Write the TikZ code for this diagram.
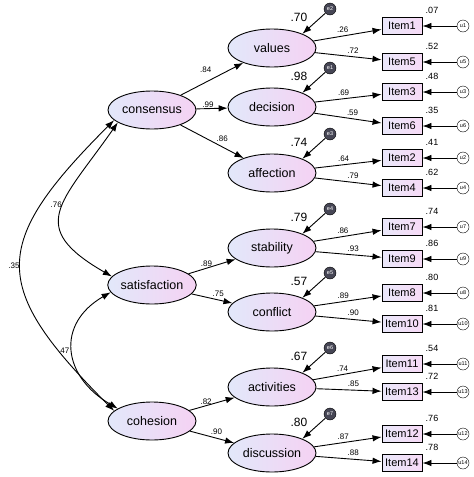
\documentclass[tikz,border=0pt]{standalone}
\usepackage{fontspec}
\setmainfont{Liberation Sans}
\usetikzlibrary{arrows.meta, positioning, calc, shapes.geometric}

\definecolor{latleft}{RGB}{226,232,250}
\definecolor{latright}{RGB}{245,210,243}
\definecolor{boxleft}{RGB}{234,232,250}
\definecolor{boxright}{RGB}{246,218,246}
\definecolor{errfill}{RGB}{70,70,85}

\begin{document}
\begin{tikzpicture}[
    x=1pt, y=-1pt,
    font=\fontsize{12}{14}\selectfont,
    latent/.style={ellipse, draw=black, line width=0.9pt, left color=latleft, right color=latright,
        minimum width=88pt, minimum height=38pt, inner sep=0pt, font=\fontsize{12.5}{14}\selectfont},
    itembox/.style={rectangle, draw=black, line width=0.9pt, left color=boxleft, right color=boxright,
        minimum width=40pt, minimum height=17pt, inner sep=0pt, font=\fontsize{11}{13}\selectfont},
    errc/.style={circle, draw=black, fill=errfill, text=white, minimum size=12pt, inner sep=0pt,
        font=\fontsize{5.5}{6}\selectfont},
    uniq/.style={circle, draw=black, fill=white, minimum size=12pt, inner sep=0pt,
        font=\fontsize{5.5}{6}\selectfont},
    arr/.style={-{Latex[length=9pt, width=6.5pt]}, line width=0.9pt},
    biarr/.style={{Latex[length=9pt, width=6.5pt]}-{Latex[length=9pt, width=6.5pt]}, line width=0.9pt},
    coef/.style={font=\fontsize{8}{9}\selectfont, inner sep=1pt},
    rsq/.style={font=\fontsize{12}{14}\selectfont, inner sep=0pt},
    rsqitem/.style={font=\fontsize{9}{11}\selectfont, inner sep=0pt},
]
\useasboundingbox (0,0) rectangle (474,477);

% ===== Column positions =====
\def\xL{152}   % second-order factors
\def\xM{272}   % first-order factors
\def\xI{402}   % indicators
\def\xU{463}   % unique errors

% ===== Second-order factors =====
\foreach \name/\y in {consensus/110, satisfaction/285, cohesion/421} {
    \node[latent] (\name) at (\xL,\y) {\name};
}

% ===== First-order factors with residuals =====
\foreach \name/\y/\rv/\err in {values/48/.70/e2, decision/107/.98/e1, affection/173/.74/e3,
        stability/248/.79/e4, conflict/312/.57/e5, activities/387/.67/e6, discussion/453/.80/e7} {
    \node[latent] (\name) at (\xM,\y) {\name};
    \node[rsq] (r\name) at ($(\name)+(27,-31)$) {\rv};
    \node[errc] (\err) at ($(\name)+(58,-39)$) {\err};
    \draw[arr] (\err) -- (\name.25);
}

% ===== Indicators with unique errors =====
\foreach \i/\y/\rv in {1/26/.07, 5/62/.52, 3/92/.48, 6/126/.35, 2/158/.41, 4/188/.62, 7/227/.74,
        9/259/.86, 8/293/.80, 10/324/.81, 11/364/.54, 13/392/.72, 12/434/.76, 14/463/.78} {
    \node[itembox] (item\i) at (\xI,\y) {Item\i};
    \node[rsqitem] (ritem\i) at ($(item\i)+(30,-16)$) {\rv};
    \node[uniq] (u\i) at (\xU,\y) {u\i};
    \draw[arr] (u\i) -- (item\i);
}

% ===== Loadings: first-order factors -> indicators =====
\foreach \lat/\ia/\ca/\ib/\cb in {values/1/.26/5/.72, decision/3/.69/6/.59, affection/2/.64/4/.79,
        stability/7/.86/9/.93, conflict/8/.89/10/.90, activities/11/.74/13/.85, discussion/12/.87/14/.88} {
    \draw[arr] (\lat) -- node[coef, pos=0.43, above, yshift=2pt] {\ca} (item\ia);
    \draw[arr] (\lat) -- node[coef, pos=0.57, above, yshift=2pt] {\cb} (item\ib);
}

% ===== Loadings: second-order -> first-order factors =====
\foreach \src/\dst/\cv/\p/\anc/\sh in {consensus/values/.84/0.4/south/8, consensus/decision/.99/0.37/south/0,
        consensus/affection/.86/0.55/south west/0, satisfaction/stability/.89/0.38/south/0,
        satisfaction/conflict/.75/0.65/south/2, cohesion/activities/.82/0.37/south/0,
        cohesion/discussion/.90/0.6/south/2} {
    \draw[arr] (\src) -- node[coef, pos=\p, anchor=\anc, yshift=\sh pt] {\cv} (\dst);
}

% ===== Covariances =====
\draw[biarr] (consensus.200) to[out=235, in=150, looseness=1.65]
    node[coef, pos=0.45, left] {.76} (satisfaction.168);
\draw[biarr] (consensus.195) to[out=225, in=135, looseness=1.55]
    node[coef, pos=0.5, left] {.35} (cohesion.165);
\draw[biarr] (satisfaction.190) to[out=210, in=150, looseness=1.4]
    node[coef, pos=0.5, left=2pt] {.47} (cohesion.160);

\end{tikzpicture}
\end{document}
